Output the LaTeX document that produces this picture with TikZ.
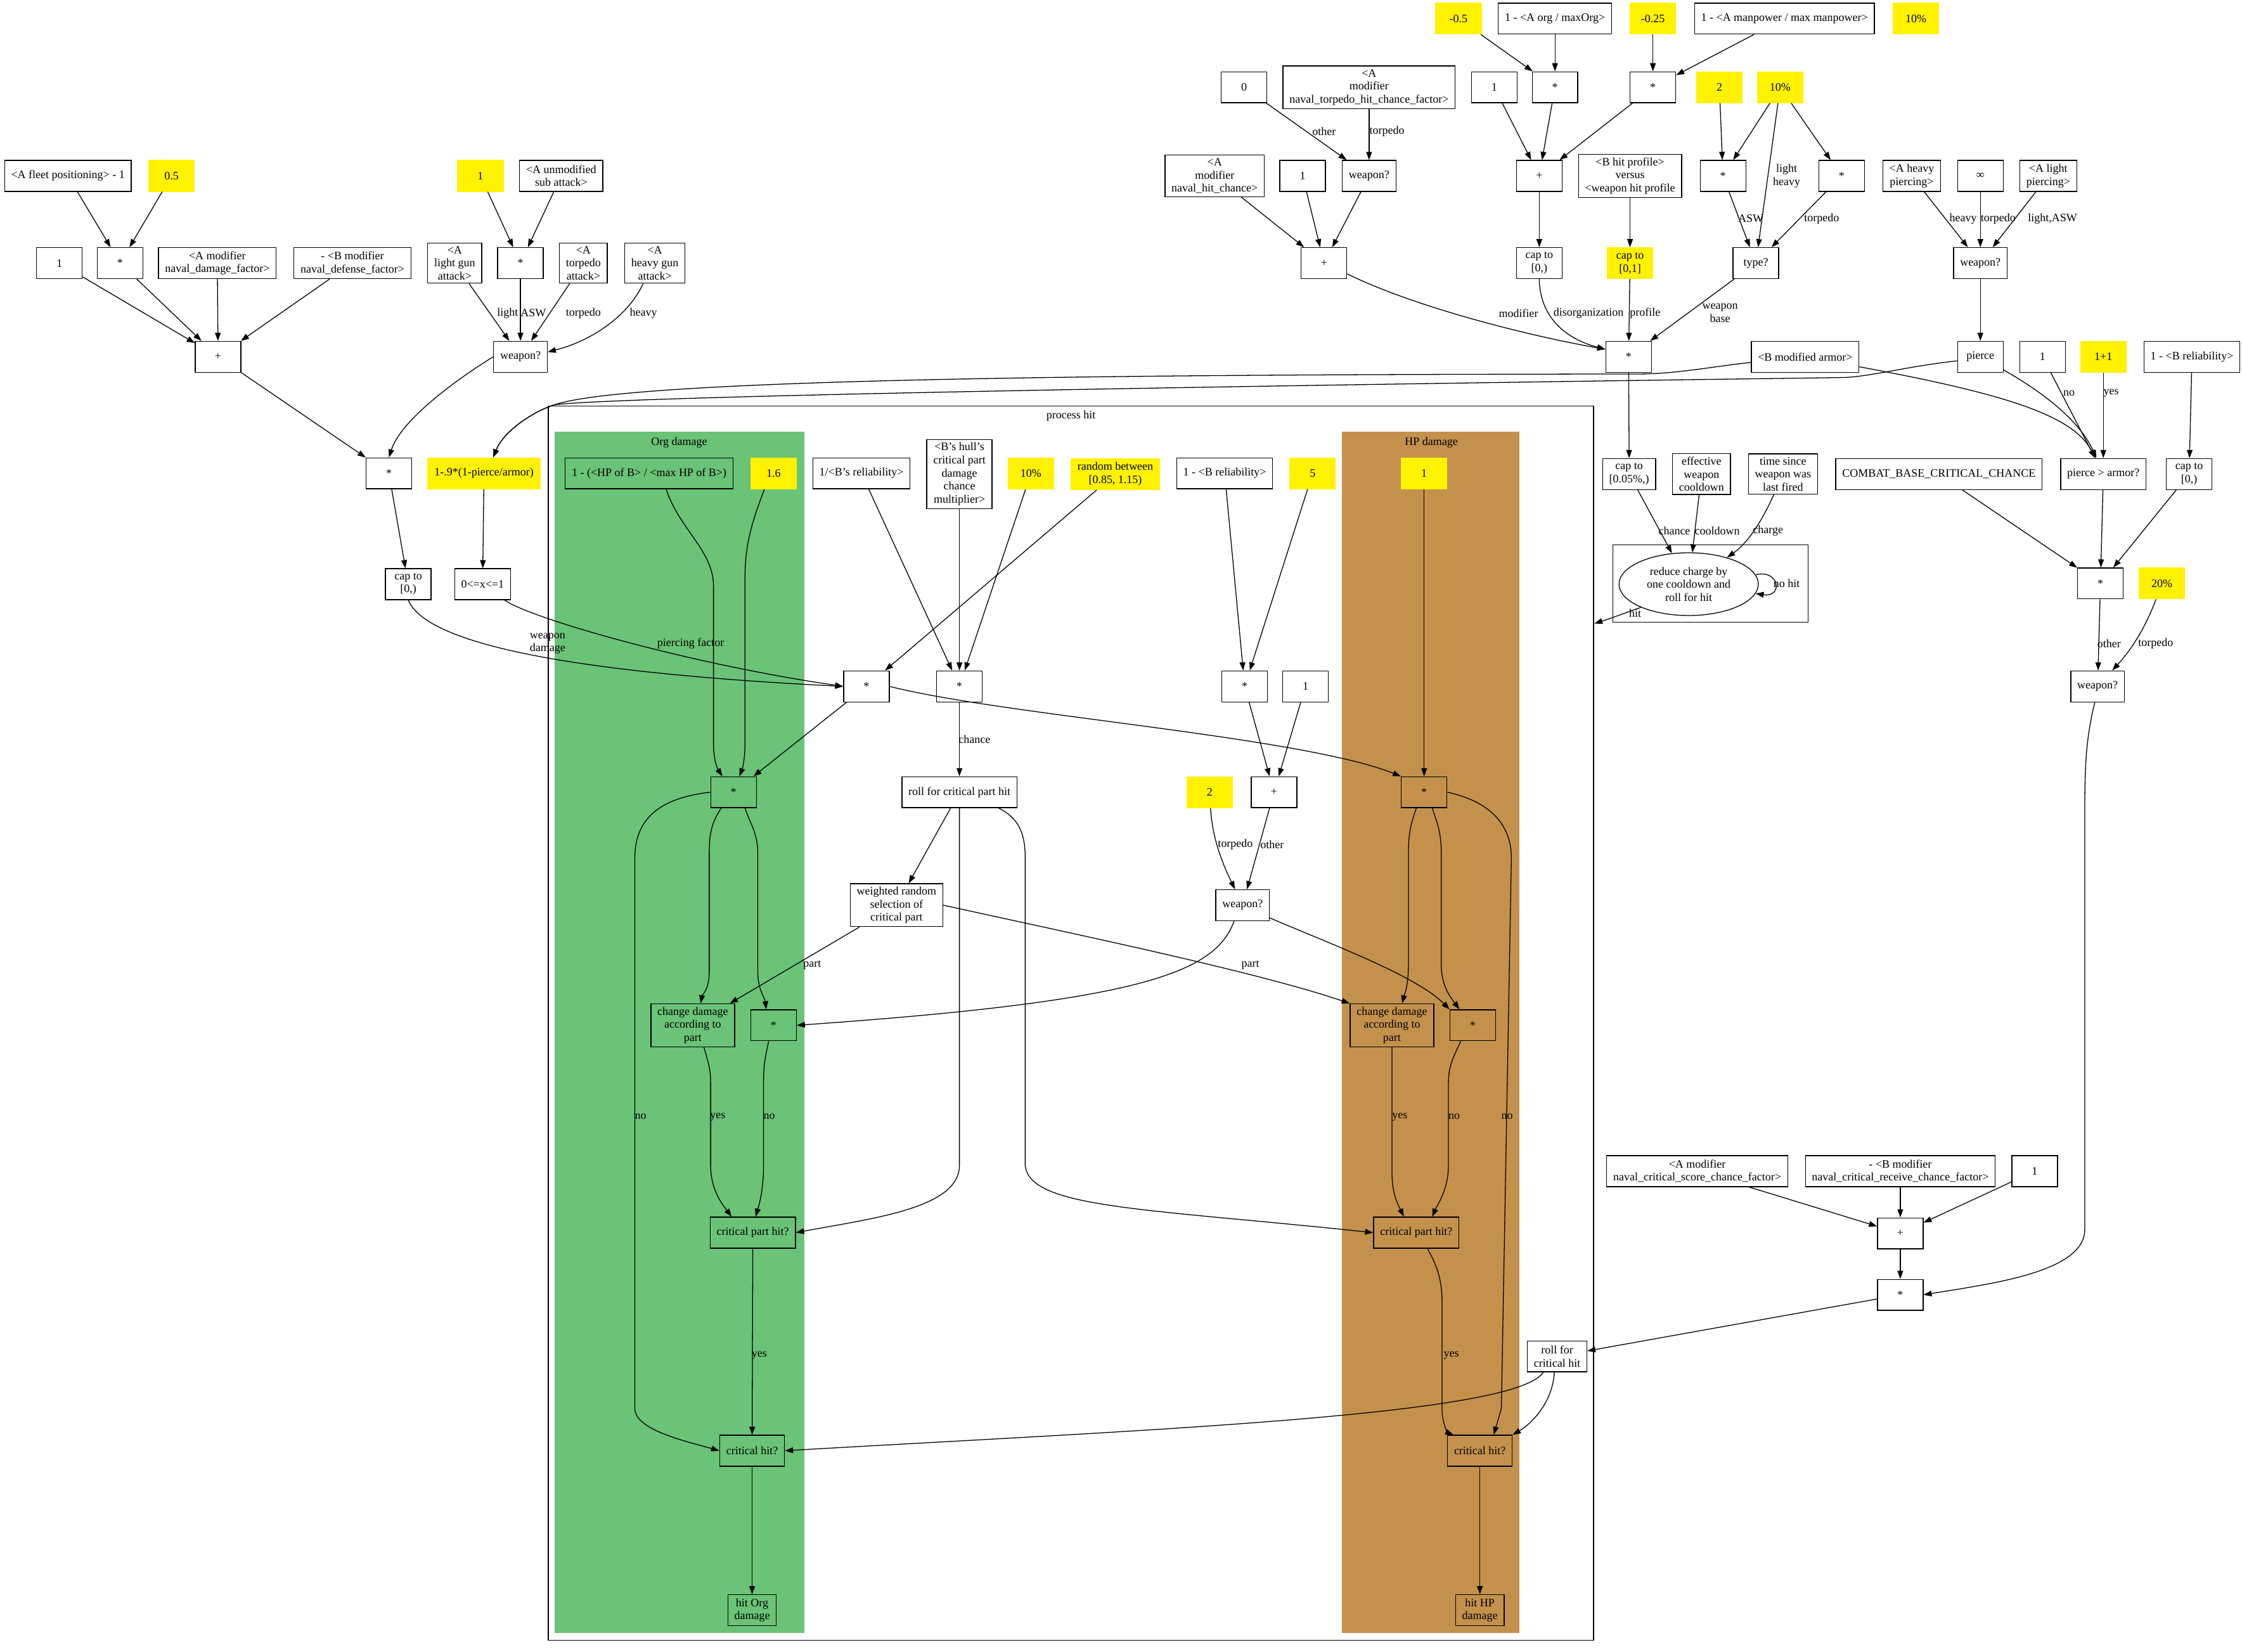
\documentclass[tikz,border=0pt]{standalone}
\usepackage{fontspec}
\setmainfont{Liberation Serif}
\usetikzlibrary{arrows.meta,shapes.geometric}
\definecolor{orggreen}{RGB}{106,195,118}
\definecolor{hpbrown}{RGB}{196,145,76}

\begin{document}
\begin{tikzpicture}[x=1.755pt, y=-1.755pt,
  every node/.style={font=\fontsize{14}{16}\selectfont},
  box/.style={draw, line width=1pt, rectangle, minimum width=56pt, minimum height=38pt, inner xsep=8pt, inner ysep=4pt, align=center},
  const/.style={box, draw=yellow, fill=yellow},
  orgbox/.style={box, fill=orggreen},
  hpbox/.style={box, fill=hpbrown},
  roll/.style={draw, line width=1pt, ellipse, minimum width=171pt, minimum height=77pt, inner sep=0pt, align=center},
  lbl/.style={inner sep=0pt, align=center},
  arr/.style={line width=1pt, -{Triangle[length=10pt,width=7pt]}}]
  \useasboundingbox (0,0) rectangle (1568,1155);

  \draw[line width=1pt] (383.5,284) rectangle (1114.5,1147);
  \node (hitlabel) at (749,291) {process hit};
  \fill[orggreen] (388,302) rectangle (562.5,1142);
  \node (orglabel) at (475,309.5) {Org damage};
  \fill[hpbrown] (938.5,302) rectangle (1062.6,1142);
  \node (hplabel) at (1001,309.5) {HP damage};
  \draw[line width=1pt] (1128,381) rectangle (1264.6,435);

  \node[box] (fleetpos) at (47.5,123) {<A fleet positioning> - 1};
  \node[const] (halfc) at (120,123) {0.5};
  \node[box] (onedmg) at (41.5,184) {1};
  \node[box] (fleetmul) at (84,184) {*};
  \node[box] (dmgfac) at (152,184) {<A modifier\\naval\_damage\_factor>};
  \node[box] (deffac) at (246.5,184) {- <B modifier\\naval\_defense\_factor>};
  \node[box] (dmgsum) at (152.5,249.5) {+};
  \node[const] (onesub) at (336,123) {1};
  \node[box] (subatk) at (392.5,123) {<A unmodified\\sub attack>};
  \node[box] (lightatk) at (318,184) {<A\\light gun\\attack>};
  \node[box] (submul) at (364,184) {*};
  \node[box] (torpatk) at (408,184) {<A\\torpedo\\attack>};
  \node[box] (heavyatk) at (458,184) {<A\\heavy gun\\attack>};
  \node[box] (atkweapon) at (364,249.5) {weapon?};
  \node[box] (dmgmul) at (272,331) {*};
  \node[const] (piercefac) at (338.5,331) {1-.9*(1-pierce/armor)};
  \node[box] (dmgcap) at (285.5,408.5) {cap to\\{[0,)}};
  \node[box] (pclamp) at (337.5,408.5) {0<=x<=1};

  \node[box] (zeroh) at (870,61) {0};
  \node[box] (torpfac) at (957.5,61) {<A\\modifier\\naval\_torpedo\_hit\_chance\_factor>};
  \node[box] (hitfac) at (849.5,123) {<A\\modifier\\naval\_hit\_chance>};
  \node[box] (onehit) at (911,123) {1};
  \node[box] (hitweapon) at (957.5,123) {weapon?};
  \node[box] (hitsum) at (926,184) {+};
  \node[const] (orgw) at (1020,13) {-0.5};
  \node[box] (orgloss) at (1087.5,13) {1 - <A org / maxOrg>};
  \node[const] (mpw) at (1156,13) {-0.25};
  \node[box] (mploss) at (1248,13) {1 - <A manpower / max manpower>};
  \node[const] (tenpa) at (1340,13) {10\%};
  \node[box] (onedis) at (1045,61) {1};
  \node[box] (orgfmul) at (1087.5,61) {*};
  \node[box] (mpmul) at (1156,61) {*};
  \node[box] (dissum) at (1076.5,123) {+};
  \node[box] (profile) at (1140,123) {<B hit profile>\\versus\\<weapon hit profile};
  \node[box] (discap) at (1076.5,184) {cap to\\{[0,)}};
  \node[const] (profcap) at (1140,184) {cap to\\{[0,1]}};
  \node[const] (twob) at (1202.5,61) {2};
  \node[const] (tenpb) at (1245,61) {10\%};
  \node[box] (aswmul) at (1205,123) {*};
  \node[box] (torpmul) at (1288,123) {*};
  \node[box] (typeq) at (1228,184) {type?};
  \node[box] (heavyp) at (1337,123) {<A heavy\\piercing>};
  \node[box] (infp) at (1385,123) {∞};
  \node[box] (lightp) at (1432.5,123) {<A light\\piercing>};
  \node[box] (pweapon) at (1385,184) {weapon?};

  \node[box] (hitmul) at (1139,249.5) {*};
  \node[box] (armor) at (1262.5,249.5) {<B modified armor>};
  \node[box] (pierce) at (1385,249.5) {pierce};
  \node[box] (onep) at (1428.5,249.5) {1};
  \node[const] (twop) at (1471,249.5) {1+1};
  \node[box] (relb) at (1533,249.5) {1 - <B reliability>};
  \node[box] (hitcap) at (1139.4,331.5) {cap to\\{[0.05\%,)}};
  \node[box] (cooldown) at (1190,331.5) {effective\\weapon\\cooldown};
  \node[box] (lastfired) at (1247,331.5) {time since\\weapon was\\last fired};
  \node[box] (basecrit) at (1356,331.5) {COMBAT\_BASE\_CRITICAL\_CHANCE};
  \node[box] (piercegt) at (1471,331.5) {pierce > armor?};
  \node[box] (relcap) at (1531,331.5) {cap to\\{[0,)}};
  \node[roll] (reduce) at (1181,408.5) {reduce charge by\\one cooldown and\\roll for hit};
  \node[box] (critmul) at (1469,408) {*};
  \node[const] (twentyp) at (1512,408) {20\%};
  \node[box] (critweapon) at (1467,480) {weapon?};
  \node[box] (critscore) at (1187,819) {<A modifier\\naval\_critical\_score\_chance\_factor>};
  \node[box] (critrecv) at (1329,819) {- <B modifier\\naval\_critical\_receive\_chance\_factor>};
  \node[box] (onecrit) at (1423,819) {1};
  \node[box] (critsum) at (1329,862.5) {+};
  \node[box] (critchance) at (1329,905.5) {*};
  \node[box] (rollcrit) at (1089,948.5) {roll for\\critical hit};

  \node[orgbox] (hpfrac) at (454,331) {1 - (<HP of B> / <max HP of B>)};
  \node[const] (orgfac) at (541,331) {1.6};
  \node[box] (relinv) at (602.5,331) {1/<B's reliability>};
  \node[box] (hullmul) at (671,331.5) {<B's hull's\\critical part\\damage\\chance\\multiplier>};
  \node[const] (tenpc) at (721,331) {10\%};
  \node[const] (randf) at (780,331.5) {random between\\{[0.85, 1.15)}};
  \node[box] (relc) at (856.5,331) {1 - <B reliability>};
  \node[const] (fivec) at (918,331) {5};
  \node[const] (hpfac) at (996,331) {1};
  \node[box] (dmgroll) at (606,480) {*};
  \node[box] (partmul) at (671,480) {*};
  \node[box] (relmul) at (870.5,480) {*};
  \node[box] (onerel) at (913,480) {1};
  \node[orgbox] (orgmul) at (513,554) {*};
  \node[box] (partroll) at (671,554) {roll for critical part hit};
  \node[const] (twoc) at (846,554) {2};
  \node[box] (relsum) at (891,554) {+};
  \node[hpbox] (hpmul) at (996,554) {*};
  \node[box] (partsel) at (627,633) {weighted random\\selection of\\critical part};
  \node[box] (relweapon) at (869,633) {weapon?};
  \node[orgbox] (orgpart) at (484.5,717) {change damage\\according to\\part};
  \node[orgbox] (orgnopart) at (541,717) {*};
  \node[hpbox] (hppart) at (973.5,717) {change damage\\according to\\part};
  \node[hpbox] (hpnopart) at (1030,717) {*};
  \node[orgbox] (orgpartq) at (526.5,862) {critical part hit?};
  \node[hpbox] (hppartq) at (990.5,862) {critical part hit?};
  \node[orgbox] (orgcritq) at (526,1014.5) {critical hit?};
  \node[hpbox] (hpcritq) at (1035,1014.5) {critical hit?};
  \node[orgbox] (orghit) at (526,1126) {hit Org\\damage};
  \node[hpbox] (hphit) at (1035,1126) {hit HP\\damage};

  \coordinate (armorjoin) at (388,283);
  \coordinate (hitin) at (1115,436);

  \draw[arr] (fleetpos) -- (fleetmul);
  \draw[arr] (halfc) -- (fleetmul);
  \draw[arr] (onedmg) -- (dmgsum);
  \draw[arr] (fleetmul) -- (dmgsum);
  \draw[arr] (dmgfac) -- (dmgsum);
  \draw[arr] (deffac) -- (dmgsum);
  \draw[arr] (onesub) -- (submul);
  \draw[arr] (subatk) -- (submul);
  \draw[arr] (lightatk) -- (atkweapon) node[lbl] at (355,219) {light};
  \draw[arr] (submul) -- (atkweapon) node[lbl] at (373,219) {ASW};
  \draw[arr] (torpatk) -- (atkweapon) node[lbl] at (408,219) {torpedo};
  \draw[arr] (heavyatk.-120) .. controls (440,220) and (415,238) .. (atkweapon.10) node[lbl] at (450,219) {heavy};
  \draw[arr] (dmgsum) -- (dmgmul);
  \draw[arr] (atkweapon.west) .. controls (315,268) and (280,295) .. (dmgmul.north);
  \draw[arr] (dmgmul) -- (dmgcap);
  \draw[arr] (piercefac) -- (pclamp);
  \draw[arr] (armor.186) .. controls (1200,256) and (1175,261) .. (1150,261.5) .. controls (900,262) and (450,262) .. (armorjoin) .. controls (372,288) and (352,302) .. (piercefac.60);
  \draw[arr] (pierce.190) .. controls (1335,256) and (1310,263) .. (1290,264) .. controls (1000,268) and (450,276) .. (armorjoin) .. controls (372,288) and (352,302) .. (piercefac.60);
  \draw[arr] (dmgcap.south) .. controls (300,455) and (430,472) .. (dmgroll.west) node[lbl] at (383,450) {weapon\\damage};
  \draw[arr] (pclamp) .. controls (370,432) and (480,464) .. (dmgroll.west) node[lbl] at (483,450) {piercing factor};

  \draw[arr] (zeroh) -- (hitweapon) node[lbl] at (926,92) {other};
  \draw[arr] (torpfac) -- (hitweapon) node[lbl] at (970,92) {torpedo};
  \draw[arr] (hitfac) -- (hitsum);
  \draw[arr] (onehit) -- (hitsum);
  \draw[arr] (hitweapon) -- (hitsum);
  \draw[arr] (hitsum.-25) .. controls (990,215) and (1070,235) .. (hitmul.162) node[lbl] at (1062,219) {modifier};
  \draw[arr] (orgw) -- (orgfmul);
  \draw[arr] (orgloss) -- (orgfmul);
  \draw[arr] (mpw) -- (mpmul);
  \draw[arr] (mploss) -- (mpmul);
  \draw[arr] (onedis) -- (dissum);
  \draw[arr] (orgfmul) -- (dissum);
  \draw[arr] (mpmul) -- (dissum);
  \draw[arr] (dissum) -- (discap);
  \draw[arr] (discap.south) .. controls (1077,222) and (1095,237) .. (hitmul.162) node[lbl] at (1111,219) {disorganization};
  \draw[arr] (profile) -- (profcap);
  \draw[arr] (profcap) -- (hitmul) node[lbl] at (1150.5,219) {profile};
  \draw[arr] (typeq) -- (hitmul) node[lbl] at (1203,219) {weapon\\base};
  \draw[arr] (twob) -- (aswmul);
  \draw[arr] (tenpb) -- (aswmul);
  \draw[arr] (tenpb) -- (typeq) node[lbl] at (1249.5,123) {light\\heavy};
  \draw[arr] (tenpb) -- (torpmul);
  \draw[arr] (aswmul) -- (typeq) node[lbl] at (1224.5,153) {ASW};
  \draw[arr] (torpmul) -- (typeq) node[lbl] at (1274,153) {torpedo};
  \draw[arr] (heavyp) -- (pweapon) node[lbl] at (1373,153) {heavy};
  \draw[arr] (infp) -- (pweapon) node[lbl] at (1397.5,153) {torpedo};
  \draw[arr] (lightp) -- (pweapon) node[lbl] at (1435.5,153) {light,ASW};
  \draw[arr] (pweapon) -- (pierce);

  \draw[arr] (hitmul) -- (hitcap);
  \draw[arr] (hitcap) -- (reduce) node[lbl] at (1171,371) {chance};
  \draw[arr] (cooldown) -- (reduce) node[lbl] at (1201,371) {cooldown};
  \draw[arr] (lastfired) .. controls (1232,365) and (1222,380) .. (reduce) node[lbl] at (1236.5,371) {charge};
  \draw[arr] (reduce.8) .. controls (1245,398) and (1247,418) .. (reduce.-8) node[lbl] at (1249.5,408) {no hit};
  \draw[arr] (reduce.-154) .. controls (1138,428) and (1128,432) .. (hitin) node[lbl] at (1143.6,429) {hit};
  \draw[arr] (armor) .. controls (1400,275) and (1450,290) .. (piercegt);
  \draw[arr] (pierce) .. controls (1430,275) and (1455,295) .. (piercegt);
  \draw[arr] (onep) -- (piercegt) node[lbl] at (1447,275) {no};
  \draw[arr] (twop) -- (piercegt) node[lbl] at (1476.5,275) {yes};
  \draw[arr] (relb) -- (relcap);
  \draw[arr] (basecrit) -- (critmul);
  \draw[arr] (piercegt) -- (critmul);
  \draw[arr] (relcap) -- (critmul);
  \draw[arr] (critmul) -- (critweapon) node[lbl] at (1475,450) {other};
  \draw[arr] (twentyp) .. controls (1500,440) and (1490,455) .. (critweapon) node[lbl] at (1507.6,450) {torpedo};
  \draw[arr] (critweapon.-100) .. controls (1458,520) and (1458,540) .. (1458,580) -- (1458,860) .. controls (1458,890) and (1390,898) .. (critchance.east);
  \draw[arr] (critscore) -- (critsum);
  \draw[arr] (critrecv) -- (critsum);
  \draw[arr] (onecrit) -- (critsum);
  \draw[arr] (critsum) -- (critchance);
  \draw[arr] (critchance) -- (rollcrit);
  \draw[arr] (rollcrit.-131) .. controls (1060,990) and (800,1000) .. (orgcritq.east);
  \draw[arr] (rollcrit.-100) .. controls (1086,980) and (1072,995) .. (hpcritq.north east);

  \draw[arr] (hpfrac.-43) .. controls (475,370) and (499,385) .. (499,410) -- (499,520) .. controls (499,532) and (502,538) .. (orgmul.125);
  \draw[arr] (orgfac.-120) .. controls (526,365) and (521,380) .. (521,405) -- (521,520) .. controls (521,532) and (519,538) .. (orgmul.70);
  \draw[arr] (dmgroll) -- (orgmul);
  \draw[arr] (dmgroll.east) .. controls (700,500) and (910,515) .. (hpmul.north west);
  \draw[arr] (hpfac) -- (hpmul);
  \draw[arr] (randf) -- (dmgroll);
  \draw[arr] (relinv) -- (partmul);
  \draw[arr] (hullmul) -- (partmul);
  \draw[arr] (tenpc) -- (partmul);
  \draw[arr] (partmul) -- (partroll) node[lbl] at (681.5,517) {chance};
  \draw[arr] (partroll) -- (partsel);
  \draw[arr] (partroll.south) -- (671,815) .. controls (671,845) and (610,852) .. (orgpartq.east);
  \draw[arr] (partroll.-22) .. controls (712,572) and (717,582) .. (717,600) -- (717,815) .. controls (720,845) and (800,845) .. (hppartq.west);
  \draw[arr] (partsel) -- (orgpart) node[lbl] at (568,675) {part};
  \draw[arr] (partsel.east) .. controls (760,655) and (880,680) .. (hppart.north west) node[lbl] at (874.5,675) {part};
  \draw[arr] (relc) -- (relmul);
  \draw[arr] (fivec) -- (relmul);
  \draw[arr] (relmul) -- (relsum);
  \draw[arr] (onerel) -- (relsum);
  \draw[arr] (twoc) .. controls (848,590) and (858,610) .. (relweapon) node[lbl] at (864,590.6) {torpedo};
  \draw[arr] (relsum) -- (relweapon) node[lbl] at (889.7,590.6) {other};
  \draw[arr] (relweapon.-118) .. controls (850,680) and (800,700) .. (orgnopart.east);
  \draw[arr] (relweapon.-25) .. controls (930,660) and (990,682) .. (hpnopart.north west);

  \draw[arr] (orgmul.-128) .. controls (498,575) and (496,582) .. (496,597) -- (496,680) .. controls (496,692) and (491,696) .. (orgpart.70);
  \draw[arr] (orgmul.-54) .. controls (524,575) and (530,582) .. (530,597) -- (530,680) .. controls (530,692) and (535,698) .. (orgnopart.115);
  \draw[arr] (orgmul.west) .. controls (462,558) and (444,572) .. (444,600) -- (444,985) .. controls (444,1000) and (480,1008) .. (orgcritq.west) node[lbl] at (448,781) {no};
  \draw[arr] (orgpart.-63) .. controls (495,742) and (497,747) .. (497,757) -- (497,815) .. controls (497,832) and (505,842) .. (orgpartq.143) node[lbl] at (502,781) {yes};
  \draw[arr] (orgnopart.-107) .. controls (535,740) and (534,745) .. (534,757) -- (534,815) .. controls (534,832) and (531,842) .. (orgpartq.80) node[lbl] at (538,781) {no};
  \draw[arr] (orgpartq) -- (orgcritq) node[lbl] at (531,948) {yes};
  \draw[arr] (orgcritq) -- (orghit);

  \draw[arr] (hpmul.-116) .. controls (987,575) and (985,582) .. (985,597) -- (985,675) .. controls (985,690) and (982,696) .. (hppart.65);
  \draw[arr] (hpmul.-63) .. controls (1005,575) and (1008,582) .. (1008,597) -- (1008,675) .. controls (1008,690) and (1015,698) .. (hpnopart.130);
  \draw[arr] (hpmul.east) .. controls (1040,560) and (1057,575) .. (1057,600) -- (1050,985) -- (hpcritq.49) node[lbl] at (1054,781) {no};
  \draw[arr] (hppart.south) -- (973.5,820) .. controls (973.5,835) and (978,843) .. (hppartq.128) node[lbl] at (979,781) {yes};
  \draw[arr] (hpnopart.-127) .. controls (1016,740) and (1013,746) .. (1013,757) -- (1013,815) .. controls (1013,832) and (1005,843) .. (hppartq.45) node[lbl] at (1017,781) {no};
  \draw[arr] (hppartq.-55) .. controls (1005,885) and (1008.5,895) .. (1008.5,910) -- (1008.5,985) .. controls (1008.5,996) and (1013,1002) .. (hpcritq.149) node[lbl] at (1015,948) {yes};
  \draw[arr] (hpcritq) -- (hphit);
\end{tikzpicture}
\end{document}
